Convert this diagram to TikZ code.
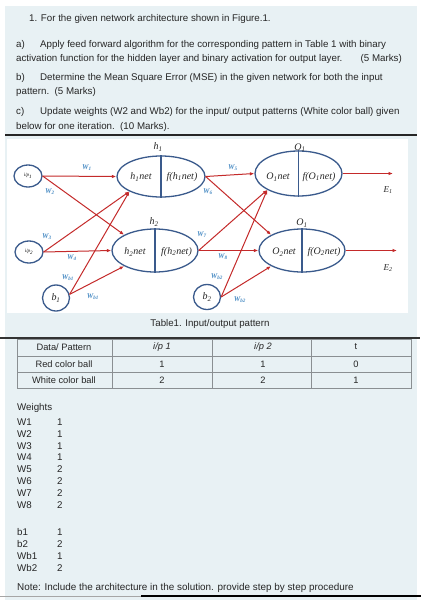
\documentclass[tikz,border=0pt]{standalone}
\usepackage{fontspec}
\setmainfont{Liberation Sans}
\newfontfamily\serifit{Liberation Serif}
\usetikzlibrary{arrows.meta,shapes.geometric}
\definecolor{bgc}{HTML}{E8F1F4}
\definecolor{edgec}{HTML}{C42A2A}
\definecolor{ringc}{HTML}{3A5A8C}
\definecolor{wlabc}{HTML}{4A8CC4}
\definecolor{txtc}{HTML}{262626}
\definecolor{gridc}{HTML}{8A8F92}
\newcommand\sbs[1]{\textsubscript{#1}}
\begin{document}
\begin{tikzpicture}[x=1pt,y=-1pt,
  body/.style={anchor=base west,inner sep=0pt,text=txtc,font=\fontsize{9.75}{11}\selectfont},
  cell/.style={inner sep=0pt,text=txtc,font=\fontsize{9.3}{10}\selectfont},
  neuron/.style={ellipse,draw=ringc,line width=1.3pt,inner sep=0pt},
  intext/.style={inner sep=0pt,font=\serifit\itshape\fontsize{10}{11}\selectfont,text=black!85},
  toplab/.style={inner sep=0pt,font=\serifit\itshape\fontsize{10}{11}\selectfont,text=black!85},
  wlab/.style={inner sep=0pt,font=\serifit\bfseries\itshape\fontsize{7.3}{8}\selectfont,text=wlabc},
  conn/.style={draw=edgec,line width=1pt,-{Latex[length=4.5pt,width=3.5pt]}},
]
\useasboundingbox (0,0) rectangle (428,600);
\fill[white] (0,0) rectangle (428,600);
\fill[bgc] (5,6) rectangle (417,600);
\fill[white] (7,139) rectangle (408,313);

% question text
\node[body] (q1) at (29,21) {1. For the given network architecture shown in Figure.1.};
\node[body] (qa) at (16,47) {a)};
\node[body] (qa1) at (40,47) {Apply feed forward algorithm for the corresponding pattern in Table 1 with binary};
\node[body] (qa2) at (16,61) {activation function for the hidden layer and binary activation for output layer.};
\node[body,anchor=base east] (qa3) at (402,61) {(5 Marks)};
\node[body] (qb) at (16,80) {b)};
\node[body] (qb1) at (40,80) {Determine the Mean Square Error (MSE) in the given network for both the input};
\node[body] (qb2) at (16,94.5) {pattern.\ \ (5 Marks)};
\node[body] (qc) at (16,114) {c)};
\node[body] (qc1) at (40,114) {Update weights (W2 and Wb2) for the input/ output patterns (White color ball) given};
\node[body] (qc2) at (16,129.5) {below for one iteration.\ \ (10 Marks).};
\draw[black!85,line width=2.6pt] (5,135) -- (417,135);

% network
\node[neuron,minimum width=28pt,minimum height=22pt] (ip1) at (28,176) {};
\node[neuron,minimum width=28pt,minimum height=22pt] (ip2) at (29,252) {};
\node[neuron,minimum width=27pt,minimum height=26pt] (b1) at (56,298) {};
\node[neuron,minimum width=27pt,minimum height=25pt] (b2) at (207,297) {};
\node[neuron,minimum width=88pt,minimum height=41pt] (h1) at (161,176.5) {};
\node[neuron,minimum width=86pt,minimum height=43pt] (h2) at (155,250.5) {};
\node[neuron,minimum width=87pt,minimum height=45pt] (o1) at (298.5,173.5) {};
\node[neuron,minimum width=86pt,minimum height=43pt] (o2) at (302,250.5) {};
\draw[ringc,line width=1.3pt] (h1.north) -- (h1.south);
\draw[ringc,line width=1.3pt] (h2.north) -- (h2.south);
\draw[ringc,line width=1.3pt] (o1.north) -- (o1.south);
\draw[ringc,line width=1.3pt] (o2.north) -- (o2.south);

\node[inner sep=0pt,font=\serifit\itshape\fontsize{5}{6}\selectfont] (tip1) at (ip1) {i/p\sbs{1}};
\node[inner sep=0pt,font=\serifit\itshape\fontsize{5}{6}\selectfont] (tip2) at (ip2) {i/p\sbs{2}};
\node[intext] (tb1) at (b1) {b\sbs{1}};
\node[intext] (tb2) at (b2) {b\sbs{2}};
\node[intext] (th1a) at (141,177) {h\sbs{1}net};
\node[intext] (th1b) at (182,177) {f(h\sbs{1}net)};
\node[intext] (th2a) at (135,252) {h\sbs{2}net};
\node[intext] (th2b) at (176.5,252) {f(h\sbs{2}net)};
\node[intext] (to1a) at (278,177) {O\sbs{1}net};
\node[intext] (to1b) at (319,177) {f(O\sbs{1}net)};
\node[intext] (to2a) at (284,252) {O\sbs{2}net};
\node[intext] (to2b) at (324,252) {f(O\sbs{2}net)};
\node[toplab] (lh1) at (158,147) {h\sbs{1}};
\node[toplab] (lh2) at (154,222) {h\sbs{2}};
\node[toplab] (lo1) at (300,147.5) {O\sbs{1}};
\node[toplab] (lo2) at (302,223) {O\sbs{1}};
\node[toplab,font=\serifit\itshape\fontsize{9}{10}\selectfont] (le1) at (388,190) {E\sbs{1}};
\node[toplab,font=\serifit\itshape\fontsize{9}{10}\selectfont] (le2) at (388,268) {E\sbs{2}};

\coordinate (e1) at (393,173.5);
\coordinate (e2) at (397,250.5);

\draw[conn] (ip1.east) -- (h1.west);
\draw[conn] (ip1.east) -- (h2.north west);
\draw[conn] (ip2.east) -- (h1.south west);
\draw[conn] (ip2.east) -- (h2.west);
\draw[conn] (b1.15) -- (h1.south west);
\draw[conn] (b1.15) -- (h2.south west);
\draw[conn] (h1.east) -- (o1.west);
\draw[conn] (h1.east) -- (o2.north west);
\draw[conn] (h2.east) -- (o1.south west);
\draw[conn] (h2.east) -- (o2.west);
\draw[conn] (b2.east) -- (o1.south west);
\draw[conn] (b2.east) -- (o2.south west);
\draw[conn] (o1.east) -- (e1);
\draw[conn] (o2.east) -- (e2);

\node[wlab] (w1) at (87,168) {W\sbs{1}};
\node[wlab] (w2) at (50,192) {W\sbs{2}};
\node[wlab] (w3) at (47,237) {W\sbs{3}};
\node[wlab] (w4) at (72,258) {W\sbs{4}};
\node[wlab] (wb1a) at (68,278) {W\sbs{b1}};
\node[wlab] (wb1b) at (93,297) {W\sbs{b1}};
\node[wlab] (w5) at (233,168) {W\sbs{5}};
\node[wlab] (w6) at (208,192) {W\sbs{6}};
\node[wlab] (w7) at (202,235) {W\sbs{7}};
\node[wlab] (w8) at (223,257) {W\sbs{8}};
\node[wlab] (wb2a) at (217,277) {W\sbs{b2}};
\node[wlab] (wb2b) at (240,300) {W\sbs{b2}};

% caption and table
\node[cell,font=\fontsize{9.7}{11}\selectfont] (cap) at (210,324) {Table1. Input/output pattern};
\draw[black!80,line width=2pt] (0,338) -- (420,338);
\draw[gridc,line width=0.8pt] (17,339) rectangle (411,388);
\draw[gridc,line width=0.8pt] (17,356) -- (411,356) (17,372) -- (411,372);
\draw[gridc,line width=0.8pt] (112,339) -- (112,388) (212,339) -- (212,388) (311,339) -- (311,388);
\node[cell] (c11) at (64,347) {Data/ Pattern};
\node[cell] (c12) at (162,347) {\itshape i/p 1};
\node[cell] (c13) at (263,347) {\itshape i/p 2};
\node[cell] (c14) at (356,347) {t};
\node[cell] (c21) at (64,364) {Red color ball};
\node[cell] (c22) at (162,364) {1};
\node[cell] (c23) at (263,364) {1};
\node[cell] (c24) at (356,364) {0};
\node[cell] (c31) at (64,380) {White color ball};
\node[cell] (c32) at (162,380) {2};
\node[cell] (c33) at (263,380) {2};
\node[cell] (c34) at (356,380) {1};

% weights
\node[body] (wt) at (17,410) {Weights};
\node[body] (k1) at (17,425.5) {W1};  \node[body] (v1) at (57,425.5) {1};
\node[body] (k2) at (17,437) {W2};    \node[body] (v2) at (57,437) {1};
\node[body] (k3) at (17,449.5) {W3};  \node[body] (v3) at (57,449.5) {1};
\node[body] (k4) at (17,460.5) {W4};  \node[body] (v4) at (57,460.5) {1};
\node[body] (k5) at (17,472) {W5};    \node[body] (v5) at (57,472) {2};
\node[body] (k6) at (17,484.5) {W6};  \node[body] (v6) at (57,484.5) {2};
\node[body] (k7) at (17,496) {W7};    \node[body] (v7) at (57,496) {2};
\node[body] (k8) at (17,508) {W8};    \node[body] (v8) at (57,508) {2};
\node[body] (k9) at (17,535) {b1};    \node[body] (v9) at (57,535) {1};
\node[body] (k10) at (17,547) {b2};   \node[body] (v10) at (57,547) {2};
\node[body] (k11) at (17,559) {Wb1};  \node[body] (v11) at (57,559) {1};
\node[body] (k12) at (17,571.5) {Wb2};\node[body] (v12) at (57,571.5) {2};
\node[body,font=\fontsize{9.9}{11}\selectfont] (note) at (17,590.5) {Note: Include the architecture in the solution. provide step by step procedure};
\draw[gray!70,line width=0.8pt] (0,596.5) -- (141,596.5);
\draw[black,line width=2pt] (141,596) -- (421,596);
\end{tikzpicture}
\end{document}
